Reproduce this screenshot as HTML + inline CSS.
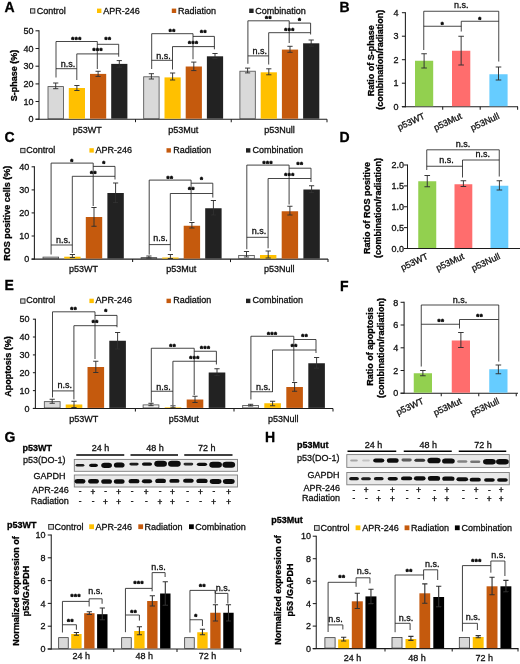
<!DOCTYPE html>
<html lang="en"><head><meta charset="utf-8"><title>Figure</title>
<style>html,body{margin:0;padding:0;background:#fff}svg{display:block}text{font-family:"Liberation Sans",sans-serif;font-size:9px;fill:#111111;stroke:#111111;stroke-width:0.3px}</style>
</head><body>
<svg width="520" height="664" viewBox="0 0 520 664">
<defs><filter id="bl" x="-5%" y="-50%" width="110%" height="200%"><feGaussianBlur stdDeviation="0.75"/></filter><filter id="soft" x="-2%" y="-2%" width="104%" height="104%"><feGaussianBlur stdDeviation="0.3"/></filter></defs>
<rect width="520" height="664" fill="#fff"/>
<g filter="url(#soft)">
<text x="4.5" y="11.7" style="font-weight:bold;font-size:14px;fill:#000;stroke:#000">A</text>
<text x="339.5" y="11.7" style="font-weight:bold;font-size:14px;fill:#000;stroke:#000">B</text>
<text x="4.5" y="142" style="font-weight:bold;font-size:14px;fill:#000;stroke:#000">C</text>
<text x="339.5" y="141.6" style="font-weight:bold;font-size:14px;fill:#000;stroke:#000">D</text>
<text x="4.5" y="290" style="font-weight:bold;font-size:14px;fill:#000;stroke:#000">E</text>
<text x="340" y="291" style="font-weight:bold;font-size:14px;fill:#000;stroke:#000">F</text>
<text x="4.5" y="442.2" style="font-weight:bold;font-size:14px;fill:#000;stroke:#000">G</text>
<text x="265" y="442.2" style="font-weight:bold;font-size:14px;fill:#000;stroke:#000">H</text>
<rect x="30.5" y="8.8" width="4.3" height="4.3" fill="#d9d9d9" stroke="#2a2a2a" stroke-width="0.95"/>
<text x="36.8" y="13.5">Control</text>
<rect x="97" y="8.6" width="4.4" height="4.4" fill="#ffc000"/>
<text x="103.2" y="13.5">APR-246</text>
<rect x="171.8" y="8.6" width="4.4" height="4.4" fill="#c55a11"/>
<text x="178" y="13.5">Radiation</text>
<rect x="249.2" y="8.6" width="4.4" height="4.4" fill="#222222"/>
<text x="255.3" y="13.5">Combination</text>
<rect x="20.7" y="148.4" width="4.3" height="4.3" fill="#d9d9d9" stroke="#2a2a2a" stroke-width="0.95"/>
<text x="26.2" y="152.7">Control</text>
<rect x="89.4" y="148.2" width="4.4" height="4.4" fill="#ffc000"/>
<text x="95.6" y="152.7">APR-246</text>
<rect x="166.5" y="148.2" width="4.4" height="4.4" fill="#c55a11"/>
<text x="173.3" y="152.7">Radiation</text>
<rect x="246" y="148.2" width="4.4" height="4.4" fill="#222222"/>
<text x="252.5" y="152.7">Combination</text>
<rect x="20.7" y="298.9" width="4.3" height="4.3" fill="#d9d9d9" stroke="#2a2a2a" stroke-width="0.95"/>
<text x="26.2" y="303.2">Control</text>
<rect x="89.4" y="298.7" width="4.4" height="4.4" fill="#ffc000"/>
<text x="95.6" y="303.2">APR-246</text>
<rect x="166.5" y="298.7" width="4.4" height="4.4" fill="#c55a11"/>
<text x="173.3" y="303.2">Radiation</text>
<rect x="246" y="298.7" width="4.4" height="4.4" fill="#222222"/>
<text x="252.5" y="303.2">Combination</text>
<rect x="48.7" y="524.5" width="4.7" height="4.7" fill="#d9d9d9" stroke="#2a2a2a" stroke-width="0.95"/>
<text x="54.5" y="529.6">Control</text>
<rect x="89.2" y="524.3" width="4.8" height="4.8" fill="#ffc000"/>
<text x="95.6" y="529.6">APR-246</text>
<rect x="138.3" y="524.3" width="4.8" height="4.8" fill="#c55a11"/>
<text x="144.6" y="529.6">Radiation</text>
<rect x="189" y="524.3" width="4.8" height="4.8" fill="#000"/>
<text x="195.2" y="529.6">Combination</text>
<rect x="314.5" y="525.6" width="4.7" height="4.7" fill="#d9d9d9" stroke="#2a2a2a" stroke-width="0.95"/>
<text x="320.6" y="530.6">Control</text>
<rect x="355.6" y="525.4" width="4.8" height="4.8" fill="#ffc000"/>
<text x="362.2" y="530.6">APR-246</text>
<rect x="404.6" y="525.4" width="4.8" height="4.8" fill="#c55a11"/>
<text x="411" y="530.6">Radiation</text>
<rect x="454.9" y="525.4" width="4.8" height="4.8" fill="#000"/>
<text x="461.5" y="530.6">Combination</text>
<text x="7" y="528.3" style="font-weight:bold;fill:#000;stroke:#000">p53WT</text>
<text x="271.3" y="523.3" style="font-weight:bold;fill:#000;stroke:#000">p53Mut</text>
<line x1="39" y1="30.3" x2="39" y2="119.7" stroke="#1e1e1e" stroke-width="1.05"/>
<line x1="35.5" y1="119.2" x2="327" y2="119.2" stroke="#1e1e1e" stroke-width="1.05"/>
<line x1="35.5" y1="119.2" x2="39" y2="119.2" stroke="#1e1e1e" stroke-width="1.05"/>
<text x="33.6" y="122.4" text-anchor="end">0</text>
<line x1="35.5" y1="101.5" x2="39" y2="101.5" stroke="#1e1e1e" stroke-width="1.05"/>
<text x="33.6" y="104.7" text-anchor="end">10</text>
<line x1="35.5" y1="83.9" x2="39" y2="83.9" stroke="#1e1e1e" stroke-width="1.05"/>
<text x="33.6" y="87.1" text-anchor="end">20</text>
<line x1="35.5" y1="66.2" x2="39" y2="66.2" stroke="#1e1e1e" stroke-width="1.05"/>
<text x="33.6" y="69.4" text-anchor="end">30</text>
<line x1="35.5" y1="48.5" x2="39" y2="48.5" stroke="#1e1e1e" stroke-width="1.05"/>
<text x="33.6" y="51.7" text-anchor="end">40</text>
<line x1="35.5" y1="30.8" x2="39" y2="30.8" stroke="#1e1e1e" stroke-width="1.05"/>
<text x="33.6" y="34" text-anchor="end">50</text>
<line x1="135.5" y1="119.2" x2="135.5" y2="122.2" stroke="#1e1e1e" stroke-width="1.05"/>
<line x1="231.25" y1="119.2" x2="231.25" y2="122.2" stroke="#1e1e1e" stroke-width="1.05"/>
<line x1="327" y1="119.2" x2="327" y2="122.2" stroke="#1e1e1e" stroke-width="1.05"/>
<rect x="48" y="86.6" width="15.4" height="32.1" fill="#d9d9d9" stroke="#4a4a4a" stroke-width="0.8"/>
<rect x="68.8" y="88" width="16.2" height="30.7" fill="#ffc000"/>
<rect x="90" y="73.9" width="16.2" height="44.8" fill="#c55a11"/>
<rect x="111.2" y="63.9" width="16.2" height="54.8" fill="#222222"/>
<path d="M53.1 83H58.3M55.7 83V88.7M53.1 88.7H58.3" stroke="#303030" stroke-width="0.95" fill="none"/>
<path d="M74.3 85.5H79.5M76.9 85.5V90.5M74.3 90.5H79.5" stroke="#303030" stroke-width="0.95" fill="none"/>
<path d="M95.5 71.3H100.7M98.1 71.3V76.4M95.5 76.4H100.7" stroke="#303030" stroke-width="0.95" fill="none"/>
<path d="M116.7 60.6H121.9M119.3 60.6V67.2M116.7 67.2H121.9" stroke="#303030" stroke-width="0.95" fill="none"/>
<path d="M56 77.5V41.5H97.3V69M97.3 44.3H118.7V56.7M76.8 80V53.9H118.7M56 68.7H76.8" stroke="#242424" stroke-width="0.85" fill="none"/>
<text x="76.55" y="41.5" text-anchor="middle" style="font-weight:bold;font-size:7.6px;stroke-width:0.6px" letter-spacing="0.55">***</text>
<text x="107.9" y="42.3" text-anchor="middle" style="font-weight:bold;font-size:7.6px;stroke-width:0.6px" letter-spacing="0.55">**</text>
<text x="97.65" y="53.3" text-anchor="middle" style="font-weight:bold;font-size:7.6px;stroke-width:0.6px" letter-spacing="0.55">***</text>
<text x="67.9" y="66.8" text-anchor="middle">n.s.</text>
<text x="87.2" y="133" text-anchor="middle">p53WT</text>
<rect x="143.7" y="76.8" width="15.4" height="41.9" fill="#d9d9d9" stroke="#4a4a4a" stroke-width="0.8"/>
<rect x="164.5" y="77.4" width="16.2" height="41.3" fill="#ffc000"/>
<rect x="185.7" y="66.5" width="16.2" height="52.2" fill="#c55a11"/>
<rect x="206.9" y="56.3" width="16.2" height="62.4" fill="#222222"/>
<path d="M148.8 73.7H154M151.4 73.7V79M148.8 79H154" stroke="#303030" stroke-width="0.95" fill="none"/>
<path d="M170 73H175.2M172.6 73V80M170 80H175.2" stroke="#303030" stroke-width="0.95" fill="none"/>
<path d="M191.2 62.1H196.4M193.8 62.1V70.6M191.2 70.6H196.4" stroke="#303030" stroke-width="0.95" fill="none"/>
<path d="M212.4 53.5H217.6M215 53.5V58.6M212.4 58.6H217.6" stroke="#303030" stroke-width="0.95" fill="none"/>
<path d="M151.7 69V33.7H193V59.2M193 36.4H214.4V49.3M172.5 69.5V46.6H214.4M151.7 60.3H172.5" stroke="#242424" stroke-width="0.85" fill="none"/>
<text x="172.25" y="34.3" text-anchor="middle" style="font-weight:bold;font-size:7.6px;stroke-width:0.6px" letter-spacing="0.55">**</text>
<text x="203.6" y="35.3" text-anchor="middle" style="font-weight:bold;font-size:7.6px;stroke-width:0.6px" letter-spacing="0.55">**</text>
<text x="193.35" y="45.8" text-anchor="middle" style="font-weight:bold;font-size:7.6px;stroke-width:0.6px" letter-spacing="0.55">***</text>
<text x="163.6" y="58.75" text-anchor="middle">n.s.</text>
<text x="183.25" y="133" text-anchor="middle">p53Mut</text>
<rect x="239.9" y="71.2" width="15.4" height="47.5" fill="#d9d9d9" stroke="#4a4a4a" stroke-width="0.8"/>
<rect x="260.7" y="72.3" width="16.2" height="46.4" fill="#ffc000"/>
<rect x="281.9" y="49.6" width="16.2" height="69.1" fill="#c55a11"/>
<rect x="303.1" y="43.3" width="16.2" height="75.4" fill="#222222"/>
<path d="M245 68.1H250.2M247.6 68.1V72.9M245 72.9H250.2" stroke="#303030" stroke-width="0.95" fill="none"/>
<path d="M266.2 68.8H271.4M268.8 68.8V74.8M266.2 74.8H271.4" stroke="#303030" stroke-width="0.95" fill="none"/>
<path d="M287.4 46.3H292.6M290 46.3V52.3M287.4 52.3H292.6" stroke="#303030" stroke-width="0.95" fill="none"/>
<path d="M308.6 40H313.8M311.2 40V46.2M308.6 46.2H313.8" stroke="#303030" stroke-width="0.95" fill="none"/>
<path d="M247.9 63.8V20.8H289.2V43M289.2 23.1H310.6V34.5M268.7 64.5V32.7H310.6M247.9 55.9H268.7" stroke="#242424" stroke-width="0.85" fill="none"/>
<text x="268.45" y="21.3" text-anchor="middle" style="font-weight:bold;font-size:7.6px;stroke-width:0.6px" letter-spacing="0.55">**</text>
<text x="299.8" y="22.7" text-anchor="middle" style="font-weight:bold;font-size:7.6px;stroke-width:0.6px" letter-spacing="0.55">*</text>
<text x="289.55" y="32.5" text-anchor="middle" style="font-weight:bold;font-size:7.6px;stroke-width:0.6px" letter-spacing="0.55">***</text>
<text x="259.8" y="54.1" text-anchor="middle">n.s.</text>
<text x="279.5" y="133" text-anchor="middle">p53Null</text>
<line x1="34.4" y1="166.3" x2="34.4" y2="259.6" stroke="#1e1e1e" stroke-width="1.05"/>
<line x1="31.6" y1="259.1" x2="328" y2="259.1" stroke="#1e1e1e" stroke-width="1.05"/>
<line x1="31.6" y1="259.1" x2="34.4" y2="259.1" stroke="#1e1e1e" stroke-width="1.05"/>
<text x="29.2" y="262.3" text-anchor="end">0</text>
<line x1="31.6" y1="236" x2="34.4" y2="236" stroke="#1e1e1e" stroke-width="1.05"/>
<text x="29.2" y="239.2" text-anchor="end">10</text>
<line x1="31.6" y1="212.9" x2="34.4" y2="212.9" stroke="#1e1e1e" stroke-width="1.05"/>
<text x="29.2" y="216.1" text-anchor="end">20</text>
<line x1="31.6" y1="189.9" x2="34.4" y2="189.9" stroke="#1e1e1e" stroke-width="1.05"/>
<text x="29.2" y="193.1" text-anchor="end">30</text>
<line x1="31.6" y1="166.8" x2="34.4" y2="166.8" stroke="#1e1e1e" stroke-width="1.05"/>
<text x="29.2" y="170" text-anchor="end">40</text>
<line x1="132.6" y1="259.1" x2="132.6" y2="262.1" stroke="#1e1e1e" stroke-width="1.05"/>
<line x1="230.5" y1="259.1" x2="230.5" y2="262.1" stroke="#1e1e1e" stroke-width="1.05"/>
<line x1="328" y1="259.1" x2="328" y2="262.1" stroke="#1e1e1e" stroke-width="1.05"/>
<rect x="43" y="257.1" width="15.6" height="1.5" fill="#d9d9d9" stroke="#4a4a4a" stroke-width="0.8"/>
<rect x="64.2" y="256.7" width="16.4" height="1.9" fill="#ffc000"/>
<rect x="85.8" y="217" width="16.4" height="41.6" fill="#c55a11"/>
<rect x="107.4" y="193" width="16.4" height="65.6" fill="#222222"/>
<path d="M69.8 254.5H75M72.4 254.5V257.5M69.8 257.5H75" stroke="#303030" stroke-width="0.95" fill="none"/>
<path d="M91.4 207.5H96.6M94 207.5V226.25M91.4 226.25H96.6" stroke="#303030" stroke-width="0.95" fill="none"/>
<path d="M113 183H118.2M115.6 183V202.5M113 202.5H118.2" stroke="#303030" stroke-width="0.95" fill="none"/>
<path d="M51.1 254.5V163.1H93.2V206M93.2 166.4H115V179.5M72.3 253V176.3H115M51.1 245H72.3" stroke="#242424" stroke-width="0.85" fill="none"/>
<text x="72.05" y="164.3" text-anchor="middle" style="font-weight:bold;font-size:7.6px;stroke-width:0.6px" letter-spacing="0.55">*</text>
<text x="104" y="165.8" text-anchor="middle" style="font-weight:bold;font-size:7.6px;stroke-width:0.6px" letter-spacing="0.55">*</text>
<text x="93.55" y="175.9" text-anchor="middle" style="font-weight:bold;font-size:7.6px;stroke-width:0.6px" letter-spacing="0.55">**</text>
<text x="63.2" y="242.5" text-anchor="middle">n.s.</text>
<text x="83.5" y="271.5" text-anchor="middle">p53WT</text>
<rect x="141.1" y="257.6" width="15.6" height="1" fill="#d9d9d9" stroke="#4a4a4a" stroke-width="0.8"/>
<rect x="162.2" y="257.5" width="16.4" height="1.1" fill="#ffc000"/>
<rect x="183.7" y="225.75" width="16.4" height="32.85" fill="#c55a11"/>
<rect x="205.2" y="208.25" width="16.4" height="50.35" fill="#222222"/>
<path d="M146.3 256H151.5M148.9 256V258M146.3 258H151.5" stroke="#303030" stroke-width="0.95" fill="none"/>
<path d="M167.8 254.5H173M170.4 254.5V258.5M167.8 258.5H173" stroke="#303030" stroke-width="0.95" fill="none"/>
<path d="M189.3 222.5H194.5M191.9 222.5V228M189.3 228H194.5" stroke="#303030" stroke-width="0.95" fill="none"/>
<path d="M210.8 200.5H216M213.4 200.5V215M210.8 215H216" stroke="#303030" stroke-width="0.95" fill="none"/>
<path d="M149.2 254.6V180.1H191.1V221M191.1 183.2H212.8V197.5M170.3 251V193.5H212.8M149.2 244.6H170.3" stroke="#242424" stroke-width="0.85" fill="none"/>
<text x="170.05" y="181.4" text-anchor="middle" style="font-weight:bold;font-size:7.6px;stroke-width:0.6px" letter-spacing="0.55">**</text>
<text x="201.85" y="182.25" text-anchor="middle" style="font-weight:bold;font-size:7.6px;stroke-width:0.6px" letter-spacing="0.55">*</text>
<text x="191.45" y="192.1" text-anchor="middle" style="font-weight:bold;font-size:7.6px;stroke-width:0.6px" letter-spacing="0.55">**</text>
<text x="160.55" y="240.75" text-anchor="middle">n.s.</text>
<text x="181.25" y="271.75" text-anchor="middle">p53Mut</text>
<rect x="238.7" y="255.4" width="15.6" height="3.2" fill="#f4f4f4" stroke="#4a4a4a" stroke-width="0.8"/>
<rect x="260" y="255" width="16.4" height="3.6" fill="#ffc000"/>
<rect x="281.7" y="211.25" width="16.4" height="47.35" fill="#c55a11"/>
<rect x="303.4" y="189.5" width="16.4" height="69.1" fill="#222222"/>
<path d="M243.9 251.5H249.1M246.5 251.5V257M243.9 257H249.1" stroke="#303030" stroke-width="0.95" fill="none"/>
<path d="M265.6 251H270.8M268.2 251V258M265.6 258H270.8" stroke="#303030" stroke-width="0.95" fill="none"/>
<path d="M287.3 206.25H292.5M289.9 206.25V215M287.3 215H292.5" stroke="#303030" stroke-width="0.95" fill="none"/>
<path d="M309 185.75H314.2M311.6 185.75V192.5M309 192.5H314.2" stroke="#303030" stroke-width="0.95" fill="none"/>
<path d="M246.8 249.2V165.1H289.1V204.5M289.1 168.2H311V182M268.1 248.3V178.5H311M246.8 237.3H268.1" stroke="#242424" stroke-width="0.85" fill="none"/>
<text x="267.85" y="165.8" text-anchor="middle" style="font-weight:bold;font-size:7.6px;stroke-width:0.6px" letter-spacing="0.55">***</text>
<text x="299.95" y="167.25" text-anchor="middle" style="font-weight:bold;font-size:7.6px;stroke-width:0.6px" letter-spacing="0.55">**</text>
<text x="289.45" y="177.7" text-anchor="middle" style="font-weight:bold;font-size:7.6px;stroke-width:0.6px" letter-spacing="0.55">***</text>
<text x="258.95" y="234.25" text-anchor="middle">n.s.</text>
<text x="279.25" y="271.75" text-anchor="middle">p53Null</text>
<line x1="35.4" y1="318.7" x2="35.4" y2="408.9" stroke="#1e1e1e" stroke-width="1.05"/>
<line x1="32.9" y1="408.4" x2="333" y2="408.4" stroke="#1e1e1e" stroke-width="1.05"/>
<line x1="32.9" y1="408.4" x2="35.4" y2="408.4" stroke="#1e1e1e" stroke-width="1.05"/>
<text x="29.6" y="411.6" text-anchor="end">0</text>
<line x1="32.9" y1="390.6" x2="35.4" y2="390.6" stroke="#1e1e1e" stroke-width="1.05"/>
<text x="29.6" y="393.8" text-anchor="end">10</text>
<line x1="32.9" y1="372.7" x2="35.4" y2="372.7" stroke="#1e1e1e" stroke-width="1.05"/>
<text x="29.6" y="375.9" text-anchor="end">20</text>
<line x1="32.9" y1="354.9" x2="35.4" y2="354.9" stroke="#1e1e1e" stroke-width="1.05"/>
<text x="29.6" y="358.1" text-anchor="end">30</text>
<line x1="32.9" y1="337" x2="35.4" y2="337" stroke="#1e1e1e" stroke-width="1.05"/>
<text x="29.6" y="340.2" text-anchor="end">40</text>
<line x1="32.9" y1="319.2" x2="35.4" y2="319.2" stroke="#1e1e1e" stroke-width="1.05"/>
<text x="29.6" y="322.4" text-anchor="end">50</text>
<line x1="135.4" y1="408.4" x2="135.4" y2="411.4" stroke="#1e1e1e" stroke-width="1.05"/>
<line x1="234" y1="408.4" x2="234" y2="411.4" stroke="#1e1e1e" stroke-width="1.05"/>
<line x1="333" y1="408.4" x2="333" y2="411.4" stroke="#1e1e1e" stroke-width="1.05"/>
<rect x="44.3" y="401.65" width="15.8" height="6.25" fill="#d9d9d9" stroke="#4a4a4a" stroke-width="0.8"/>
<rect x="65.7" y="404.5" width="16.6" height="3.4" fill="#ffc000"/>
<rect x="87.5" y="367" width="16.6" height="40.9" fill="#c55a11"/>
<rect x="109.3" y="340.75" width="16.6" height="67.15" fill="#222222"/>
<path d="M49.6 399.25H54.8M52.2 399.25V403.25M49.6 403.25H54.8" stroke="#303030" stroke-width="0.95" fill="none"/>
<path d="M71.4 401.25H76.6M74 401.25V407.5M71.4 407.5H76.6" stroke="#303030" stroke-width="0.95" fill="none"/>
<path d="M93.2 361.25H98.4M95.8 361.25V372.5M93.2 372.5H98.4" stroke="#303030" stroke-width="0.95" fill="none"/>
<path d="M115 332.5H120.2M117.6 332.5V349M115 349H120.2" stroke="#303030" stroke-width="0.95" fill="none"/>
<path d="M52.5 397.4V311.8H95V359M95 315.4H117V327.2M73.9 399.4V325.7H117M52.5 390.9H73.9" stroke="#242424" stroke-width="0.85" fill="none"/>
<text x="73.65" y="312.25" text-anchor="middle" style="font-weight:bold;font-size:7.6px;stroke-width:0.6px" letter-spacing="0.55">**</text>
<text x="105.9" y="313.5" text-anchor="middle" style="font-weight:bold;font-size:7.6px;stroke-width:0.6px" letter-spacing="0.55">*</text>
<text x="95.35" y="324.5" text-anchor="middle" style="font-weight:bold;font-size:7.6px;stroke-width:0.6px" letter-spacing="0.55">**</text>
<text x="64.7" y="388" text-anchor="middle">n.s.</text>
<text x="83.75" y="421.5" text-anchor="middle">p53WT</text>
<rect x="143.1" y="404.9" width="15.8" height="3" fill="#f4f4f4" stroke="#4a4a4a" stroke-width="0.8"/>
<rect x="164.7" y="407.3" width="16.6" height="0.6" fill="#ffc000"/>
<rect x="186.7" y="399.5" width="16.6" height="8.4" fill="#c55a11"/>
<rect x="208.7" y="372.5" width="16.6" height="35.4" fill="#222222"/>
<path d="M148.4 403.3H153.6M151 403.3V405.7M148.4 405.7H153.6" stroke="#303030" stroke-width="0.95" fill="none"/>
<path d="M170.4 405.8H175.6M173 405.8V407.8M170.4 407.8H175.6" stroke="#303030" stroke-width="0.95" fill="none"/>
<path d="M192.4 396.25H197.6M195 396.25V402.5M192.4 402.5H197.6" stroke="#303030" stroke-width="0.95" fill="none"/>
<path d="M214.4 368.75H219.6M217 368.75V375.5M214.4 375.5H219.6" stroke="#303030" stroke-width="0.95" fill="none"/>
<path d="M151.3 402.5V348.25H194.2V395M194.2 351.25H216.4V364.5M172.9 405V361.25H216.4M151.3 391.25H172.9" stroke="#242424" stroke-width="0.85" fill="none"/>
<text x="172.65" y="349.25" text-anchor="middle" style="font-weight:bold;font-size:7.6px;stroke-width:0.6px" letter-spacing="0.55">**</text>
<text x="205.2" y="351" text-anchor="middle" style="font-weight:bold;font-size:7.6px;stroke-width:0.6px" letter-spacing="0.55">***</text>
<text x="194.55" y="361" text-anchor="middle" style="font-weight:bold;font-size:7.6px;stroke-width:0.6px" letter-spacing="0.55">***</text>
<text x="163.6" y="389.5" text-anchor="middle">n.s.</text>
<text x="183.75" y="421.75" text-anchor="middle">p53Mut</text>
<rect x="242.7" y="405.4" width="15.8" height="2.5" fill="#f4f4f4" stroke="#4a4a4a" stroke-width="0.8"/>
<rect x="264.3" y="403.25" width="16.6" height="4.65" fill="#ffc000"/>
<rect x="286.3" y="387" width="16.6" height="20.9" fill="#c55a11"/>
<rect x="308.3" y="363.25" width="16.6" height="44.65" fill="#222222"/>
<path d="M248 404.3H253.2M250.6 404.3V406M248 406H253.2" stroke="#303030" stroke-width="0.95" fill="none"/>
<path d="M270 401.25H275.2M272.6 401.25V405.75M270 405.75H275.2" stroke="#303030" stroke-width="0.95" fill="none"/>
<path d="M292 382.5H297.2M294.6 382.5V391.25M292 391.25H297.2" stroke="#303030" stroke-width="0.95" fill="none"/>
<path d="M314 357.5H319.2M316.6 357.5V368.25M314 368.25H319.2" stroke="#303030" stroke-width="0.95" fill="none"/>
<path d="M250.9 399.5V336.25H293.8V381.5M293.8 339.5H316V353M272.5 392V350H316M250.9 391.75H272.5" stroke="#242424" stroke-width="0.85" fill="none"/>
<text x="272.25" y="337.25" text-anchor="middle" style="font-weight:bold;font-size:7.6px;stroke-width:0.6px" letter-spacing="0.55">***</text>
<text x="304.8" y="339" text-anchor="middle" style="font-weight:bold;font-size:7.6px;stroke-width:0.6px" letter-spacing="0.55">**</text>
<text x="294.15" y="349.25" text-anchor="middle" style="font-weight:bold;font-size:7.6px;stroke-width:0.6px" letter-spacing="0.55">**</text>
<text x="263.2" y="390" text-anchor="middle">n.s.</text>
<text x="283.25" y="421.75" text-anchor="middle">p53Null</text>
<text text-anchor="middle" style="font-weight:bold;fill:#000;stroke:#000" transform="translate(16.6,75.6) rotate(-90)">S-phase (%)</text>
<text text-anchor="middle" style="font-weight:bold;fill:#000;stroke:#000" transform="translate(10.2,213.2) rotate(-90)">ROS positive cells (%)</text>
<text text-anchor="middle" style="font-weight:bold;fill:#000;stroke:#000" transform="translate(10.5,366.4) rotate(-90)">Apoptosis (%)</text>
<line x1="405.4" y1="12.2" x2="405.4" y2="107.2" stroke="#1e1e1e" stroke-width="1.05"/>
<line x1="401.9" y1="106.7" x2="518" y2="106.7" stroke="#1e1e1e" stroke-width="1.05"/>
<line x1="401.9" y1="106.7" x2="405.4" y2="106.7" stroke="#1e1e1e" stroke-width="1.05"/>
<text x="398.4" y="109.9" text-anchor="end">0</text>
<line x1="401.9" y1="83.2" x2="405.4" y2="83.2" stroke="#1e1e1e" stroke-width="1.05"/>
<text x="398.4" y="86.4" text-anchor="end">1</text>
<line x1="401.9" y1="59.7" x2="405.4" y2="59.7" stroke="#1e1e1e" stroke-width="1.05"/>
<text x="398.4" y="62.9" text-anchor="end">2</text>
<line x1="401.9" y1="36.2" x2="405.4" y2="36.2" stroke="#1e1e1e" stroke-width="1.05"/>
<text x="398.4" y="39.4" text-anchor="end">3</text>
<line x1="401.9" y1="12.7" x2="405.4" y2="12.7" stroke="#1e1e1e" stroke-width="1.05"/>
<text x="398.4" y="15.9" text-anchor="end">4</text>
<line x1="442.7" y1="106.7" x2="442.7" y2="109.7" stroke="#1e1e1e" stroke-width="1.05"/>
<line x1="480.2" y1="106.7" x2="480.2" y2="109.7" stroke="#1e1e1e" stroke-width="1.05"/>
<line x1="517.6" y1="106.7" x2="517.6" y2="109.7" stroke="#1e1e1e" stroke-width="1.05"/>
<rect x="415" y="60.75" width="18.2" height="45.45" fill="#92d050"/>
<path d="M421.3 53.75H426.9M424.1 53.75V68M421.3 68H426.9" stroke="#303030" stroke-width="0.95" fill="none"/>
<rect x="452" y="50.75" width="18.3" height="55.45" fill="#ff6d6d"/>
<path d="M458.35 36.25H463.95M461.15 36.25V65M458.35 65H463.95" stroke="#303030" stroke-width="0.95" fill="none"/>
<rect x="489.4" y="74.25" width="18.2" height="31.95" fill="#66ccff"/>
<path d="M495.7 67H501.3M498.5 67V80M495.7 80H501.3" stroke="#303030" stroke-width="0.95" fill="none"/>
<path d="M423.75 50V11.25H498.75V61.5M423.75 26.25H461.25M461.25 21.25V31.5M461.25 21.25H498.75" stroke="#242424" stroke-width="0.85" fill="none"/>
<text x="461.25" y="7.7" text-anchor="middle">n.s.</text>
<text x="442.4" y="26.5" text-anchor="middle" style="font-weight:bold;font-size:7.6px;stroke-width:0.6px" letter-spacing="0.55">*</text>
<text x="479.9" y="21.5" text-anchor="middle" style="font-weight:bold;font-size:7.6px;stroke-width:0.6px" letter-spacing="0.55">*</text>
<text text-anchor="end" transform="translate(425.6,118.2) rotate(-25)">p53WT</text>
<text text-anchor="end" transform="translate(462.65,118.2) rotate(-25)">p53Mut</text>
<text text-anchor="end" transform="translate(500,118.2) rotate(-25)">p53Null</text>
<line x1="407.5" y1="164.5" x2="407.5" y2="249" stroke="#1e1e1e" stroke-width="1.05"/>
<line x1="404" y1="248.5" x2="520" y2="248.5" stroke="#1e1e1e" stroke-width="1.05"/>
<line x1="404" y1="248.5" x2="407.5" y2="248.5" stroke="#1e1e1e" stroke-width="1.05"/>
<text x="404" y="251.7" text-anchor="end">0.0</text>
<line x1="404" y1="227.6" x2="407.5" y2="227.6" stroke="#1e1e1e" stroke-width="1.05"/>
<text x="404" y="230.8" text-anchor="end">0.5</text>
<line x1="404" y1="206.75" x2="407.5" y2="206.75" stroke="#1e1e1e" stroke-width="1.05"/>
<text x="404" y="209.95" text-anchor="end">1.0</text>
<line x1="404" y1="185.9" x2="407.5" y2="185.9" stroke="#1e1e1e" stroke-width="1.05"/>
<text x="404" y="189.1" text-anchor="end">1.5</text>
<line x1="404" y1="165" x2="407.5" y2="165" stroke="#1e1e1e" stroke-width="1.05"/>
<text x="404" y="168.2" text-anchor="end">2.0</text>
<rect x="418.25" y="181.25" width="18" height="66.75" fill="#92d050"/>
<path d="M424.45 175.5H430.05M427.25 175.5V186.75M424.45 186.75H430.05" stroke="#303030" stroke-width="0.95" fill="none"/>
<rect x="454.5" y="184.25" width="17.8" height="63.75" fill="#ff6d6d"/>
<path d="M460.6 180.75H466.2M463.4 180.75V186.5M460.6 186.5H466.2" stroke="#303030" stroke-width="0.95" fill="none"/>
<rect x="490.5" y="185.75" width="17.8" height="62.25" fill="#66ccff"/>
<path d="M496.6 180.75H502.2M499.4 180.75V190M496.6 190H502.2" stroke="#303030" stroke-width="0.95" fill="none"/>
<path d="M426.75 170V149.8H499.25V176.5M426.75 166.25H462.5M462.5 160V177.5M462.5 160H499.25" stroke="#242424" stroke-width="0.85" fill="none"/>
<text x="463" y="147" text-anchor="middle">n.s.</text>
<text x="446.62" y="163" text-anchor="middle">n.s.</text>
<text x="482.88" y="157.3" text-anchor="middle">n.s.</text>
<text text-anchor="end" transform="translate(428.75,258.5) rotate(-25)">p53WT</text>
<text text-anchor="end" transform="translate(464.9,258.5) rotate(-25)">p53Mut</text>
<text text-anchor="end" transform="translate(500.9,258.5) rotate(-25)">p53Null</text>
<line x1="404.1" y1="301.8" x2="404.1" y2="393.7" stroke="#1e1e1e" stroke-width="1.05"/>
<line x1="400.6" y1="393.2" x2="518" y2="393.2" stroke="#1e1e1e" stroke-width="1.05"/>
<line x1="400.6" y1="393.2" x2="404.1" y2="393.2" stroke="#1e1e1e" stroke-width="1.05"/>
<text x="398.2" y="396.4" text-anchor="end">0</text>
<line x1="400.6" y1="370.5" x2="404.1" y2="370.5" stroke="#1e1e1e" stroke-width="1.05"/>
<text x="398.2" y="373.7" text-anchor="end">2</text>
<line x1="400.6" y1="347.8" x2="404.1" y2="347.8" stroke="#1e1e1e" stroke-width="1.05"/>
<text x="398.2" y="351" text-anchor="end">4</text>
<line x1="400.6" y1="325" x2="404.1" y2="325" stroke="#1e1e1e" stroke-width="1.05"/>
<text x="398.2" y="328.2" text-anchor="end">6</text>
<line x1="400.6" y1="302.3" x2="404.1" y2="302.3" stroke="#1e1e1e" stroke-width="1.05"/>
<text x="398.2" y="305.5" text-anchor="end">8</text>
<line x1="441.25" y1="393.2" x2="441.25" y2="396.2" stroke="#1e1e1e" stroke-width="1.05"/>
<line x1="478.75" y1="393.2" x2="478.75" y2="396.2" stroke="#1e1e1e" stroke-width="1.05"/>
<line x1="516.25" y1="393.2" x2="516.25" y2="396.2" stroke="#1e1e1e" stroke-width="1.05"/>
<rect x="413.75" y="373.25" width="18.25" height="19.45" fill="#92d050"/>
<path d="M420.07 370.5H425.68M422.88 370.5V375.75M420.07 375.75H425.68" stroke="#303030" stroke-width="0.95" fill="none"/>
<rect x="451.75" y="340.5" width="18.25" height="52.2" fill="#ff6d6d"/>
<path d="M458.07 332.5H463.68M460.88 332.5V347.5M458.07 347.5H463.68" stroke="#303030" stroke-width="0.95" fill="none"/>
<rect x="489.25" y="369.25" width="18.25" height="23.45" fill="#66ccff"/>
<path d="M495.57 365H501.18M498.38 365V373.75M495.57 373.75H501.18" stroke="#303030" stroke-width="0.95" fill="none"/>
<path d="M421.25 366.5V305H498.75V361.5M421.25 324.25H459.5M459.5 319.5V328.5M459.5 319.5H498.75" stroke="#242424" stroke-width="0.85" fill="none"/>
<text x="460" y="302.5" text-anchor="middle">n.s.</text>
<text x="441.07" y="324.4" text-anchor="middle" style="font-weight:bold;font-size:7.6px;stroke-width:0.6px" letter-spacing="0.55">**</text>
<text x="479.82" y="319" text-anchor="middle" style="font-weight:bold;font-size:7.6px;stroke-width:0.6px" letter-spacing="0.55">**</text>
<text text-anchor="end" transform="translate(424.38,403.2) rotate(-25)">p53WT</text>
<text text-anchor="end" transform="translate(462.38,403.2) rotate(-25)">p53Mut</text>
<text text-anchor="end" transform="translate(499.88,403.2) rotate(-25)">p53Null</text>
<text text-anchor="middle" style="font-weight:bold;fill:#000;stroke:#000" transform="translate(373.7,60.7) rotate(-90)">Ratio of S-phase</text>
<text text-anchor="middle" style="font-weight:bold;fill:#000;stroke:#000" transform="translate(383.1,59.8) rotate(-90)">(combination/radiation)</text>
<text text-anchor="middle" style="font-weight:bold;fill:#000;stroke:#000" transform="translate(370.4,208) rotate(-90)">Ratio of ROS positive</text>
<text text-anchor="middle" style="font-weight:bold;fill:#000;stroke:#000" transform="translate(381.3,208) rotate(-90)">(combination/radiation)</text>
<text text-anchor="middle" style="font-weight:bold;fill:#000;stroke:#000" transform="translate(373.1,346.5) rotate(-90)">Ratio of apoptosis</text>
<text text-anchor="middle" style="font-weight:bold;fill:#000;stroke:#000" transform="translate(383.7,348) rotate(-90)">(combination/radiation)</text>
<rect x="74.3" y="459.4" width="163.2" height="11.9" fill="#e9e9e9" stroke="#7d7d7d" stroke-width="0.9"/>
<rect x="74.3" y="475" width="163.2" height="12" fill="#e9e9e9" stroke="#7d7d7d" stroke-width="0.9"/>
<g filter="url(#bl)">
<rect x="75.65" y="464.02" width="8.7" height="2.56" rx="1.59" ry="1.28" fill="#0a0a0a" opacity="0.94"/>
<rect x="74.65" y="478.92" width="10.7" height="4.56" rx="2.83" ry="2.28" fill="#0a0a0a" opacity="1"/>
<rect x="89.15" y="463.69" width="8.7" height="3.22" rx="2" ry="1.61" fill="#0a0a0a" opacity="0.99"/>
<rect x="88.15" y="478.92" width="10.7" height="4.56" rx="2.83" ry="2.28" fill="#0a0a0a" opacity="1"/>
<rect x="101.25" y="462.7" width="10.7" height="5.2" rx="3.22" ry="2.6" fill="#0a0a0a" opacity="1"/>
<rect x="101.25" y="479.22" width="10.7" height="4.56" rx="2.83" ry="2.28" fill="#0a0a0a" opacity="1"/>
<rect x="113.85" y="462.4" width="10.7" height="5.2" rx="3.22" ry="2.6" fill="#0a0a0a" opacity="1"/>
<rect x="113.85" y="479.33" width="10.7" height="4.34" rx="2.69" ry="2.17" fill="#0a0a0a" opacity="1"/>
<rect x="129.4" y="462.77" width="9.2" height="2.67" rx="1.66" ry="1.33" fill="#0a0a0a" opacity="0.94"/>
<rect x="128.65" y="479.03" width="10.7" height="4.34" rx="2.69" ry="2.17" fill="#0a0a0a" opacity="1"/>
<rect x="141.9" y="462.44" width="10.2" height="3.33" rx="2.06" ry="1.67" fill="#0a0a0a" opacity="0.99"/>
<rect x="141.9" y="479.25" width="10.2" height="3.9" rx="2.42" ry="1.95" fill="#0a0a0a" opacity="1"/>
<rect x="154.25" y="460.87" width="12.7" height="5.86" rx="3.63" ry="2.93" fill="#0a0a0a" opacity="1"/>
<rect x="155.25" y="478.73" width="10.7" height="4.34" rx="2.69" ry="2.17" fill="#0a0a0a" opacity="1"/>
<rect x="168.05" y="460.87" width="12.7" height="5.86" rx="3.63" ry="2.93" fill="#0a0a0a" opacity="1"/>
<rect x="169.3" y="479.06" width="10.2" height="3.68" rx="2.28" ry="1.84" fill="#0a0a0a" opacity="1"/>
<rect x="183.55" y="462.82" width="9.7" height="2.56" rx="1.59" ry="1.28" fill="#0a0a0a" opacity="0.88"/>
<rect x="183.05" y="478.75" width="10.7" height="3.9" rx="2.42" ry="1.95" fill="#0a0a0a" opacity="1"/>
<rect x="196.9" y="462.63" width="10.2" height="3.33" rx="2.06" ry="1.67" fill="#0a0a0a" opacity="1"/>
<rect x="196.4" y="478.73" width="11.2" height="4.34" rx="2.69" ry="2.17" fill="#0a0a0a" opacity="1"/>
<rect x="209.25" y="461.77" width="12.7" height="5.86" rx="3.63" ry="2.93" fill="#0a0a0a" opacity="1"/>
<rect x="209.75" y="479.11" width="11.7" height="4.78" rx="2.96" ry="2.39" fill="#0a0a0a" opacity="1"/>
<rect x="222.45" y="461.77" width="12.7" height="5.86" rx="3.63" ry="2.93" fill="#0a0a0a" opacity="1"/>
<rect x="222.95" y="479.11" width="11.7" height="4.78" rx="2.96" ry="2.39" fill="#0a0a0a" opacity="1"/>
</g>
<text x="80" y="493.9" text-anchor="middle" style="font-size:8.2px;fill:#000;stroke:#000;stroke-width:0.35px">-</text>
<text x="80" y="504" text-anchor="middle" style="font-size:8.2px;fill:#000;stroke:#000;stroke-width:0.35px">-</text>
<text x="93" y="494.7" text-anchor="middle" style="font-size:8.2px;fill:#000;stroke:#000;stroke-width:0.35px">+</text>
<text x="93" y="504" text-anchor="middle" style="font-size:8.2px;fill:#000;stroke:#000;stroke-width:0.35px">-</text>
<text x="105.5" y="493.9" text-anchor="middle" style="font-size:8.2px;fill:#000;stroke:#000;stroke-width:0.35px">-</text>
<text x="105.5" y="504.8" text-anchor="middle" style="font-size:8.2px;fill:#000;stroke:#000;stroke-width:0.35px">+</text>
<text x="118.75" y="494.7" text-anchor="middle" style="font-size:8.2px;fill:#000;stroke:#000;stroke-width:0.35px">+</text>
<text x="118.75" y="504.8" text-anchor="middle" style="font-size:8.2px;fill:#000;stroke:#000;stroke-width:0.35px">+</text>
<text x="132" y="493.9" text-anchor="middle" style="font-size:8.2px;fill:#000;stroke:#000;stroke-width:0.35px">-</text>
<text x="132" y="504" text-anchor="middle" style="font-size:8.2px;fill:#000;stroke:#000;stroke-width:0.35px">-</text>
<text x="146.25" y="494.7" text-anchor="middle" style="font-size:8.2px;fill:#000;stroke:#000;stroke-width:0.35px">+</text>
<text x="146.25" y="504" text-anchor="middle" style="font-size:8.2px;fill:#000;stroke:#000;stroke-width:0.35px">-</text>
<text x="160" y="493.9" text-anchor="middle" style="font-size:8.2px;fill:#000;stroke:#000;stroke-width:0.35px">-</text>
<text x="160" y="504.8" text-anchor="middle" style="font-size:8.2px;fill:#000;stroke:#000;stroke-width:0.35px">+</text>
<text x="172.5" y="494.7" text-anchor="middle" style="font-size:8.2px;fill:#000;stroke:#000;stroke-width:0.35px">+</text>
<text x="172.5" y="504.8" text-anchor="middle" style="font-size:8.2px;fill:#000;stroke:#000;stroke-width:0.35px">+</text>
<text x="187.5" y="493.9" text-anchor="middle" style="font-size:8.2px;fill:#000;stroke:#000;stroke-width:0.35px">-</text>
<text x="187.5" y="504" text-anchor="middle" style="font-size:8.2px;fill:#000;stroke:#000;stroke-width:0.35px">-</text>
<text x="200.5" y="494.7" text-anchor="middle" style="font-size:8.2px;fill:#000;stroke:#000;stroke-width:0.35px">+</text>
<text x="200.5" y="504" text-anchor="middle" style="font-size:8.2px;fill:#000;stroke:#000;stroke-width:0.35px">-</text>
<text x="213.75" y="493.9" text-anchor="middle" style="font-size:8.2px;fill:#000;stroke:#000;stroke-width:0.35px">-</text>
<text x="213.75" y="504.8" text-anchor="middle" style="font-size:8.2px;fill:#000;stroke:#000;stroke-width:0.35px">+</text>
<text x="228.75" y="494.7" text-anchor="middle" style="font-size:8.2px;fill:#000;stroke:#000;stroke-width:0.35px">+</text>
<text x="228.75" y="504.8" text-anchor="middle" style="font-size:8.2px;fill:#000;stroke:#000;stroke-width:0.35px">+</text>
<text x="22.5" y="450.5" style="font-weight:bold;fill:#000;stroke:#000">p53WT</text>
<text x="100.4" y="450.5" text-anchor="middle">24 h</text>
<text x="155" y="450.5" text-anchor="middle">48 h</text>
<text x="206.75" y="450.5" text-anchor="middle">72 h</text>
<text x="65.5" y="463.4" text-anchor="end">p53(DO-1)</text>
<text x="65.5" y="478.8" text-anchor="end">GAPDH</text>
<text x="68.8" y="493.3" text-anchor="end">APR-246</text>
<text x="68.8" y="504.2" text-anchor="end">Radiation</text>
<line x1="76.25" y1="455" x2="124.25" y2="455" stroke="#000" stroke-width="1.5"/>
<line x1="130.5" y1="455" x2="178" y2="455" stroke="#000" stroke-width="1.5"/>
<line x1="184.25" y1="455" x2="232.5" y2="455" stroke="#000" stroke-width="1.5"/>
<rect x="346.8" y="454.6" width="162.5" height="12.8" fill="#e9e9e9" stroke="#7d7d7d" stroke-width="0.9"/>
<rect x="346.8" y="472.5" width="162.5" height="12.3" fill="#e9e9e9" stroke="#7d7d7d" stroke-width="0.9"/>
<g filter="url(#bl)">
<rect x="350.15" y="459.44" width="7.7" height="2.12" rx="1.31" ry="1.06" fill="#0a0a0a" opacity="0.29"/>
<rect x="349.15" y="477.08" width="9.7" height="3.24" rx="2.01" ry="1.62" fill="#0a0a0a" opacity="0.95"/>
<rect x="362.15" y="459.55" width="7.7" height="1.9" rx="1.18" ry="0.95" fill="#0a0a0a" opacity="0.17"/>
<rect x="361.15" y="477.19" width="9.7" height="3.02" rx="1.87" ry="1.51" fill="#0a0a0a" opacity="0.9"/>
<rect x="373.15" y="458.45" width="11.2" height="4.1" rx="2.54" ry="2.05" fill="#0a0a0a" opacity="1"/>
<rect x="373.9" y="477.08" width="9.7" height="3.24" rx="2.01" ry="1.62" fill="#0a0a0a" opacity="0.95"/>
<rect x="386.9" y="458.23" width="11.7" height="4.54" rx="2.81" ry="2.27" fill="#0a0a0a" opacity="1"/>
<rect x="387.65" y="476.97" width="10.2" height="3.46" rx="2.15" ry="1.73" fill="#0a0a0a" opacity="1"/>
<rect x="401.5" y="458.61" width="10.2" height="2.78" rx="1.72" ry="1.39" fill="#0a0a0a" opacity="0.66"/>
<rect x="401" y="476.45" width="11.2" height="3.9" rx="2.42" ry="1.95" fill="#0a0a0a" opacity="1"/>
<rect x="414.4" y="458.7" width="10.7" height="3" rx="1.86" ry="1.5" fill="#0a0a0a" opacity="0.83"/>
<rect x="413.9" y="476.34" width="11.7" height="4.12" rx="2.55" ry="2.06" fill="#0a0a0a" opacity="1"/>
<rect x="427.4" y="457.68" width="13.2" height="5.64" rx="3.5" ry="2.82" fill="#0a0a0a" opacity="1"/>
<rect x="427.9" y="476.12" width="12.2" height="4.56" rx="2.83" ry="2.28" fill="#0a0a0a" opacity="1"/>
<rect x="442.05" y="458.4" width="12.7" height="5.2" rx="3.22" ry="2.6" fill="#0a0a0a" opacity="1"/>
<rect x="442.3" y="476.53" width="12.2" height="4.34" rx="2.69" ry="2.17" fill="#0a0a0a" opacity="1"/>
<rect x="457.15" y="460.22" width="10.2" height="2.56" rx="1.59" ry="1.28" fill="#0a0a0a" opacity="0.44"/>
<rect x="456.4" y="477.25" width="11.7" height="3.9" rx="2.42" ry="1.95" fill="#0a0a0a" opacity="1"/>
<rect x="470.15" y="460.52" width="10.2" height="2.56" rx="1.59" ry="1.28" fill="#0a0a0a" opacity="0.5"/>
<rect x="469.65" y="477.86" width="11.2" height="3.68" rx="2.28" ry="1.84" fill="#0a0a0a" opacity="1"/>
<rect x="483.05" y="459.09" width="12.7" height="5.42" rx="3.36" ry="2.71" fill="#0a0a0a" opacity="1"/>
<rect x="484.05" y="478.17" width="10.7" height="3.46" rx="2.15" ry="1.73" fill="#0a0a0a" opacity="1"/>
<rect x="496.05" y="459.09" width="12.7" height="5.42" rx="3.36" ry="2.71" fill="#0a0a0a" opacity="1"/>
<rect x="497.05" y="478.17" width="10.7" height="3.46" rx="2.15" ry="1.73" fill="#0a0a0a" opacity="1"/>
</g>
<text x="353.75" y="492.6" text-anchor="middle" style="font-size:8.2px;fill:#000;stroke:#000;stroke-width:0.35px">-</text>
<text x="353.75" y="501.1" text-anchor="middle" style="font-size:8.2px;fill:#000;stroke:#000;stroke-width:0.35px">-</text>
<text x="366.25" y="493.4" text-anchor="middle" style="font-size:8.2px;fill:#000;stroke:#000;stroke-width:0.35px">+</text>
<text x="366.25" y="501.1" text-anchor="middle" style="font-size:8.2px;fill:#000;stroke:#000;stroke-width:0.35px">-</text>
<text x="378.75" y="492.6" text-anchor="middle" style="font-size:8.2px;fill:#000;stroke:#000;stroke-width:0.35px">-</text>
<text x="378.75" y="501.9" text-anchor="middle" style="font-size:8.2px;fill:#000;stroke:#000;stroke-width:0.35px">+</text>
<text x="392.5" y="493.4" text-anchor="middle" style="font-size:8.2px;fill:#000;stroke:#000;stroke-width:0.35px">+</text>
<text x="392.5" y="501.9" text-anchor="middle" style="font-size:8.2px;fill:#000;stroke:#000;stroke-width:0.35px">+</text>
<text x="407" y="492.6" text-anchor="middle" style="font-size:8.2px;fill:#000;stroke:#000;stroke-width:0.35px">-</text>
<text x="407" y="501.1" text-anchor="middle" style="font-size:8.2px;fill:#000;stroke:#000;stroke-width:0.35px">-</text>
<text x="418.75" y="493.4" text-anchor="middle" style="font-size:8.2px;fill:#000;stroke:#000;stroke-width:0.35px">+</text>
<text x="418.75" y="501.1" text-anchor="middle" style="font-size:8.2px;fill:#000;stroke:#000;stroke-width:0.35px">-</text>
<text x="434.5" y="492.6" text-anchor="middle" style="font-size:8.2px;fill:#000;stroke:#000;stroke-width:0.35px">-</text>
<text x="434.5" y="501.9" text-anchor="middle" style="font-size:8.2px;fill:#000;stroke:#000;stroke-width:0.35px">+</text>
<text x="447" y="493.4" text-anchor="middle" style="font-size:8.2px;fill:#000;stroke:#000;stroke-width:0.35px">+</text>
<text x="447" y="501.9" text-anchor="middle" style="font-size:8.2px;fill:#000;stroke:#000;stroke-width:0.35px">+</text>
<text x="463.25" y="492.6" text-anchor="middle" style="font-size:8.2px;fill:#000;stroke:#000;stroke-width:0.35px">-</text>
<text x="463.25" y="501.1" text-anchor="middle" style="font-size:8.2px;fill:#000;stroke:#000;stroke-width:0.35px">-</text>
<text x="476.25" y="493.4" text-anchor="middle" style="font-size:8.2px;fill:#000;stroke:#000;stroke-width:0.35px">+</text>
<text x="476.25" y="501.1" text-anchor="middle" style="font-size:8.2px;fill:#000;stroke:#000;stroke-width:0.35px">-</text>
<text x="489.25" y="492.6" text-anchor="middle" style="font-size:8.2px;fill:#000;stroke:#000;stroke-width:0.35px">-</text>
<text x="489.25" y="501.9" text-anchor="middle" style="font-size:8.2px;fill:#000;stroke:#000;stroke-width:0.35px">+</text>
<text x="501.25" y="493.4" text-anchor="middle" style="font-size:8.2px;fill:#000;stroke:#000;stroke-width:0.35px">+</text>
<text x="501.25" y="501.9" text-anchor="middle" style="font-size:8.2px;fill:#000;stroke:#000;stroke-width:0.35px">+</text>
<text x="297" y="448" style="font-weight:bold;fill:#000;stroke:#000">p53Mut</text>
<text x="373.4" y="448" text-anchor="middle">24 h</text>
<text x="428.25" y="448" text-anchor="middle">48 h</text>
<text x="483" y="448" text-anchor="middle">72 h</text>
<text x="339.5" y="460.5" text-anchor="end">p53(DO-1)</text>
<text x="339.5" y="477.5" text-anchor="end">GAPDH</text>
<text x="340" y="491.3" text-anchor="end">APR-246</text>
<text x="340" y="501.3" text-anchor="end">Radiation</text>
<line x1="347.5" y1="451.3" x2="396.25" y2="451.3" stroke="#000" stroke-width="1.5"/>
<line x1="403.75" y1="451.3" x2="451.75" y2="451.3" stroke="#000" stroke-width="1.5"/>
<line x1="458.75" y1="451.3" x2="506.25" y2="451.3" stroke="#000" stroke-width="1.5"/>
<line x1="51.25" y1="534.5" x2="51.25" y2="649.5" stroke="#1e1e1e" stroke-width="1.05"/>
<line x1="47.75" y1="649" x2="241.2" y2="649" stroke="#1e1e1e" stroke-width="1.05"/>
<line x1="47.75" y1="649" x2="51.25" y2="649" stroke="#1e1e1e" stroke-width="1.05"/>
<text x="45.5" y="652.2" text-anchor="end">0</text>
<line x1="47.75" y1="626.2" x2="51.25" y2="626.2" stroke="#1e1e1e" stroke-width="1.05"/>
<text x="45.5" y="629.4" text-anchor="end">2</text>
<line x1="47.75" y1="603.4" x2="51.25" y2="603.4" stroke="#1e1e1e" stroke-width="1.05"/>
<text x="45.5" y="606.6" text-anchor="end">4</text>
<line x1="47.75" y1="580.6" x2="51.25" y2="580.6" stroke="#1e1e1e" stroke-width="1.05"/>
<text x="45.5" y="583.8" text-anchor="end">6</text>
<line x1="47.75" y1="557.8" x2="51.25" y2="557.8" stroke="#1e1e1e" stroke-width="1.05"/>
<text x="45.5" y="561" text-anchor="end">8</text>
<line x1="47.75" y1="535" x2="51.25" y2="535" stroke="#1e1e1e" stroke-width="1.05"/>
<text x="45.5" y="538.2" text-anchor="end">10</text>
<line x1="113.75" y1="649" x2="113.75" y2="652" stroke="#1e1e1e" stroke-width="1.05"/>
<line x1="177" y1="649" x2="177" y2="652" stroke="#1e1e1e" stroke-width="1.05"/>
<line x1="240.7" y1="649" x2="240.7" y2="652" stroke="#1e1e1e" stroke-width="1.05"/>
<rect x="58.65" y="637.65" width="9.6" height="10.85" fill="#d9d9d9" stroke="#3a3a3a" stroke-width="0.8"/>
<rect x="71.2" y="634" width="10.4" height="14.5" fill="#ffc000"/>
<rect x="84.15" y="613.2" width="10.4" height="35.3" fill="#c55a11"/>
<rect x="97.1" y="614.2" width="10.4" height="34.3" fill="#000"/>
<path d="M73.8 632.5H79M76.4 632.5V635.3M73.8 635.3H79" stroke="#303030" stroke-width="1.1" fill="none"/>
<path d="M86.75 611.7H91.95M89.35 611.7V614.5M86.75 614.5H91.95" stroke="#303030" stroke-width="1.1" fill="none"/>
<path d="M99.7 608H104.9M102.3 608V619.75M99.7 619.75H104.9" stroke="#303030" stroke-width="1.1" fill="none"/>
<path d="M62.45 632.5V601.4H89.15V606.5M89.15 601.4V598.8H102.1V603.8M62.45 624.75H76.4V629.75" stroke="#242424" stroke-width="0.85" fill="none"/>
<text x="75.7" y="599.1" text-anchor="middle" style="font-weight:bold;font-size:7.6px;stroke-width:0.6px" letter-spacing="0.55">***</text>
<text x="95.62" y="594.4" text-anchor="middle">n.s.</text>
<text x="70.63" y="623.5" text-anchor="middle" style="font-weight:bold;font-size:7.6px;stroke-width:0.6px" letter-spacing="0.55">**</text>
<text x="81.25" y="659.3" text-anchor="middle">24 h</text>
<rect x="121.65" y="637.65" width="9.6" height="10.85" fill="#d9d9d9" stroke="#3a3a3a" stroke-width="0.8"/>
<rect x="134.2" y="631" width="10.4" height="17.5" fill="#ffc000"/>
<rect x="147.15" y="601" width="10.4" height="47.5" fill="#c55a11"/>
<rect x="160.1" y="593.5" width="10.4" height="55" fill="#000"/>
<path d="M136.8 626.75H142M139.4 626.75V634.75M136.8 634.75H142" stroke="#303030" stroke-width="1.1" fill="none"/>
<path d="M149.75 595.8H154.95M152.35 595.8V606M149.75 606H154.95" stroke="#303030" stroke-width="1.1" fill="none"/>
<path d="M162.7 581.8H167.9M165.3 581.8V605.25M162.7 605.25H167.9" stroke="#303030" stroke-width="1.1" fill="none"/>
<path d="M125.45 632.2V588.4H152.15V591.3M152.15 588.4V572.6H165.1V577M125.45 615H139.4V620.6" stroke="#242424" stroke-width="0.85" fill="none"/>
<text x="138.7" y="585.9" text-anchor="middle" style="font-weight:bold;font-size:7.6px;stroke-width:0.6px" letter-spacing="0.55">***</text>
<text x="158.63" y="569.8" text-anchor="middle">n.s.</text>
<text x="133.82" y="614.5" text-anchor="middle" style="font-weight:bold;font-size:7.6px;stroke-width:0.6px" letter-spacing="0.55">**</text>
<text x="144.25" y="659.3" text-anchor="middle">48 h</text>
<rect x="184.65" y="637.65" width="9.6" height="10.85" fill="#d9d9d9" stroke="#3a3a3a" stroke-width="0.8"/>
<rect x="197.25" y="632.25" width="10.4" height="16.25" fill="#ffc000"/>
<rect x="210.25" y="612.75" width="10.4" height="35.75" fill="#c55a11"/>
<rect x="223.25" y="612.75" width="10.4" height="35.75" fill="#000"/>
<path d="M199.85 629.25H205.05M202.45 629.25V634.75M199.85 634.75H205.05" stroke="#303030" stroke-width="1.1" fill="none"/>
<path d="M212.85 604.75H218.05M215.45 604.75V621M212.85 621H218.05" stroke="#303030" stroke-width="1.1" fill="none"/>
<path d="M225.85 604.75H231.05M228.45 604.75V621M225.85 621H231.05" stroke="#303030" stroke-width="1.1" fill="none"/>
<path d="M189.95 632.5V590.4H215.25V603.5M215.25 590.4V593.4H227.85V603.5M189.95 619.75H202.45V626" stroke="#242424" stroke-width="0.85" fill="none"/>
<text x="202.5" y="589" text-anchor="middle" style="font-weight:bold;font-size:7.6px;stroke-width:0.6px" letter-spacing="0.55">**</text>
<text x="223.05" y="590.6" text-anchor="middle">n.s.</text>
<text x="196.1" y="618.7" text-anchor="middle" style="font-weight:bold;font-size:7.6px;stroke-width:0.6px" letter-spacing="0.55">*</text>
<text x="207.5" y="659.3" text-anchor="middle">72 h</text>
<line x1="316.25" y1="535.7" x2="316.25" y2="649.1" stroke="#1e1e1e" stroke-width="1.05"/>
<line x1="312.75" y1="648.6" x2="518.5" y2="648.6" stroke="#1e1e1e" stroke-width="1.05"/>
<line x1="312.75" y1="648.6" x2="316.25" y2="648.6" stroke="#1e1e1e" stroke-width="1.05"/>
<text x="311" y="651.8" text-anchor="end">0</text>
<line x1="312.75" y1="626.1" x2="316.25" y2="626.1" stroke="#1e1e1e" stroke-width="1.05"/>
<text x="311" y="629.3" text-anchor="end">2</text>
<line x1="312.75" y1="603.6" x2="316.25" y2="603.6" stroke="#1e1e1e" stroke-width="1.05"/>
<text x="311" y="606.8" text-anchor="end">4</text>
<line x1="312.75" y1="581.2" x2="316.25" y2="581.2" stroke="#1e1e1e" stroke-width="1.05"/>
<text x="311" y="584.4" text-anchor="end">6</text>
<line x1="312.75" y1="558.7" x2="316.25" y2="558.7" stroke="#1e1e1e" stroke-width="1.05"/>
<text x="311" y="561.9" text-anchor="end">8</text>
<line x1="312.75" y1="536.2" x2="316.25" y2="536.2" stroke="#1e1e1e" stroke-width="1.05"/>
<text x="311" y="539.4" text-anchor="end">10</text>
<line x1="385" y1="648.6" x2="385" y2="651.6" stroke="#1e1e1e" stroke-width="1.05"/>
<line x1="452.2" y1="648.6" x2="452.2" y2="651.6" stroke="#1e1e1e" stroke-width="1.05"/>
<line x1="518" y1="648.6" x2="518" y2="651.6" stroke="#1e1e1e" stroke-width="1.05"/>
<rect x="324.9" y="637.65" width="10.2" height="10.45" fill="#d9d9d9" stroke="#3a3a3a" stroke-width="0.8"/>
<rect x="338.15" y="639.4" width="11" height="8.7" fill="#ffc000"/>
<rect x="351.8" y="601.3" width="11" height="46.8" fill="#c55a11"/>
<rect x="365.45" y="596.4" width="11" height="51.7" fill="#000"/>
<path d="M341.05 637.25H346.25M343.65 637.25V641M341.05 641H346.25" stroke="#303030" stroke-width="1.1" fill="none"/>
<path d="M354.7 593.3H359.9M357.3 593.3V608.5M354.7 608.5H359.9" stroke="#303030" stroke-width="1.1" fill="none"/>
<path d="M368.35 589.3H373.55M370.95 589.3V603.6M368.35 603.6H373.55" stroke="#303030" stroke-width="1.1" fill="none"/>
<path d="M328.1 632V582.3H356.1V586.8M356.1 582.3V577.8H369.95V583.4M328.1 624.9H342.85V629.5" stroke="#242424" stroke-width="0.85" fill="none"/>
<text x="342" y="579.8" text-anchor="middle" style="font-weight:bold;font-size:7.6px;stroke-width:0.6px" letter-spacing="0.55">**</text>
<text x="364.02" y="574.4" text-anchor="middle">n.s.</text>
<text x="335.48" y="622.3" text-anchor="middle">n.s.</text>
<text x="352.5" y="661.3" text-anchor="middle">24 h</text>
<rect x="392" y="637.4" width="10" height="10.7" fill="#d9d9d9" stroke="#3a3a3a" stroke-width="0.8"/>
<rect x="405.5" y="639" width="10.8" height="9.1" fill="#ffc000"/>
<rect x="419.4" y="593.3" width="10.8" height="54.8" fill="#c55a11"/>
<rect x="433.3" y="597" width="10.8" height="51.1" fill="#000"/>
<path d="M408.3 636.4H413.5M410.9 636.4V640.4M408.3 640.4H413.5" stroke="#303030" stroke-width="1.1" fill="none"/>
<path d="M422.2 583.9H427.4M424.8 583.9V603.3M422.2 603.3H427.4" stroke="#303030" stroke-width="1.1" fill="none"/>
<path d="M436.1 586.3H441.3M438.7 586.3V606.8M436.1 606.8H441.3" stroke="#303030" stroke-width="1.1" fill="none"/>
<path d="M395.1 632.2V575H423.6V579.8M423.6 575V569.8H437.7V580M395.1 623.3H410.1V630" stroke="#242424" stroke-width="0.85" fill="none"/>
<text x="409.25" y="574.1" text-anchor="middle" style="font-weight:bold;font-size:7.6px;stroke-width:0.6px" letter-spacing="0.55">**</text>
<text x="432.15" y="566.5" text-anchor="middle">n.s.</text>
<text x="405.9" y="620.5" text-anchor="middle">n.s.</text>
<text x="416.9" y="661.3" text-anchor="middle">48 h</text>
<rect x="459.3" y="637.4" width="10.1" height="10.7" fill="#d9d9d9" stroke="#3a3a3a" stroke-width="0.8"/>
<rect x="472.75" y="637" width="10.9" height="11.1" fill="#ffc000"/>
<rect x="486.6" y="586.3" width="10.9" height="61.8" fill="#c55a11"/>
<rect x="500.45" y="586.3" width="10.9" height="61.8" fill="#000"/>
<path d="M475.6 635.6H480.8M478.2 635.6V637.7M475.6 637.7H480.8" stroke="#303030" stroke-width="1.1" fill="none"/>
<path d="M489.45 577.2H494.65M492.05 577.2V594.7M489.45 594.7H494.65" stroke="#303030" stroke-width="1.1" fill="none"/>
<path d="M503.3 580.4H508.5M505.9 580.4V591.7M503.3 591.7H508.5" stroke="#303030" stroke-width="1.1" fill="none"/>
<path d="M462.45 631.5V565.6H490.85V572.7M490.85 565.6V561H504.9V576M462.45 623.3H477.4V630" stroke="#242424" stroke-width="0.85" fill="none"/>
<text x="476.55" y="563.7" text-anchor="middle" style="font-weight:bold;font-size:7.6px;stroke-width:0.6px" letter-spacing="0.55">***</text>
<text x="498.48" y="558" text-anchor="middle">n.s.</text>
<text x="472.92" y="619.9" text-anchor="middle">n.s.</text>
<text x="484.2" y="661.3" text-anchor="middle">72 h</text>
<text text-anchor="middle" style="font-weight:bold;fill:#000;stroke:#000" transform="translate(18.5,591) rotate(-90)">Normalized expression of</text>
<text text-anchor="middle" style="font-weight:bold;fill:#000;stroke:#000" transform="translate(28.9,591) rotate(-90)">p53/GAPDH</text>
<text text-anchor="middle" style="font-weight:bold;fill:#000;stroke:#000" transform="translate(281.2,590) rotate(-90)">Normalized expression of</text>
<text text-anchor="middle" style="font-weight:bold;fill:#000;stroke:#000" transform="translate(292.7,590) rotate(-90)">p53 /GAPDH</text>
</g>
</svg>
</body></html>
